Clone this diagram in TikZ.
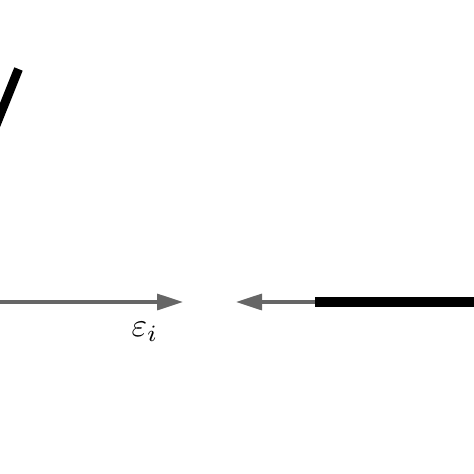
\documentclass[tikz,border=0pt]{standalone}
\usepackage{amsmath}
\usepackage{amssymb}
\usetikzlibrary{arrows.meta,positioning}
\tikzset{
    flow/.style={x=0.3pt,y=-0.3pt},
    arr/.style={draw=black!60, line width=1pt,
                -{Triangle[length=7.8pt,width=4.8pt]}},
    bar/.style={draw=black, line width=3.2pt},
    slant/.style={draw=black, line width=2.7pt, line cap=butt},
    lbl/.style={inner sep=0pt},
    }
\begin{document}
\begin{tikzpicture}[flow]
            \useasboundingbox (0,0) rectangle (474,474);
            \clip (0,0) rectangle (474,474);
            \coordinate (s1) at (18.5,69);
            \coordinate (s2) at (-14,150);
            \coordinate (a0) at (-5,302);
            \coordinate (a1) at (183,302);
            \coordinate (b1) at (236,302);
            \coordinate (b0) at (315,302);
            \coordinate (b2) at (480,302);
            \node[lbl] (eps) at (145,332) {$\varepsilon_i$};

            \draw[slant] (s1) -- (s2);
            \draw[arr] (a0) -- (a1);
            \draw[arr] (b0) -- (b1);
            \draw[bar] (b0) -- (b2);
        \end{tikzpicture}
\end{document}
